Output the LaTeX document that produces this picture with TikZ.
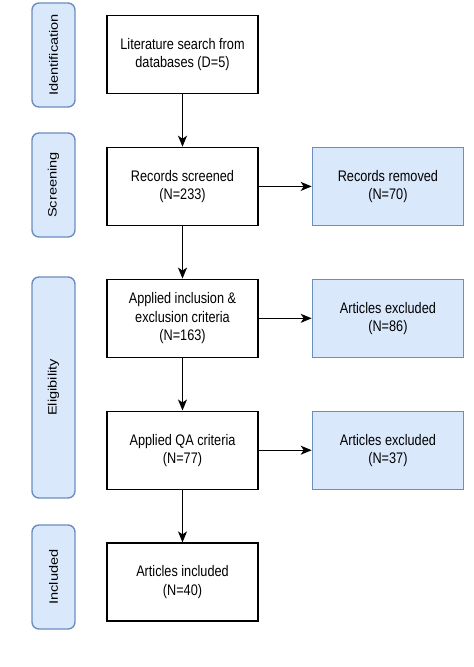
\documentclass[tikz,border=0pt]{standalone}
\usepackage{graphicx}
\usepackage{fontspec}
\setmainfont{Liberation Sans}[FakeStretch=0.83]
\newfontfamily\pillfont{Liberation Sans}
\usetikzlibrary{arrows.meta,positioning}

\definecolor{phasefill}{HTML}{DAE8FC}
\definecolor{phaseline}{HTML}{6C8EBF}

\tikzset{
  stage/.style={draw, line width=1.4pt, minimum width=151pt, minimum height=78pt,
    align=center, font=\fontsize{15.3}{18.3}\selectfont},
  dropped/.style={stage, draw=phaseline, fill=phasefill},
  phase/.style={draw=phaseline, fill=phasefill, line width=1.4pt, rounded corners=7pt,
    minimum height=43pt, rotate=90, font=\pillfont\fontsize{14.6}{17}\selectfont},
}

\begin{document}
\begin{tikzpicture}[->,>={Stealth[length=11pt,width=9pt,inset=3pt]},auto,x=1pt,y=-1pt,line width=1.4pt]
					\useasboundingbox (0,0) rectangle (474,667);
					
					% phases on the left
					\node[phase, minimum width=104pt] (ident) at (53.5,55) {\scalebox{1}[0.83]{Identification}};
					\node[phase, minimum width=104pt] (scr) at (53.5,185) {\scalebox{1}[0.83]{Screening}};
					\node[phase, minimum width=221pt] (elig) at (53.5,387.5) {\scalebox{1}[0.83]{Eligibility}};
					\node[phase, minimum width=104pt] (incl) at (53.5,577) {\scalebox{1}[0.83]{Included}};
					
					% main column
					\node[stage] (search) at (182.5,54.5) {Literature search from\\databases (D=5)};
					\node[stage] (screen) [below=52.5pt of search] {Records screened\\(N=233)};
					\node[stage] (criteria) [below=52.5pt of screen] {Applied inclusion \&\\exclusion criteria\\(N=163)};
					\node[stage] (qa) [below=52.5pt of criteria] {Applied QA criteria\\(N=77)};
					\node[stage] (final) [below=52.5pt of qa] {Articles included\\(N=40)};
					
					% removed records
					\node[dropped] (removed) [right=53pt of screen] {Records removed\\(N=70)};
					\node[dropped] (excl1) [right=53pt of criteria] {Articles excluded\\(N=86)};
					\node[dropped] (excl2) [right=53pt of qa] {Articles excluded\\(N=37)};
					
					\path
					(search) edge (screen)
					(screen) edge (criteria)
					(criteria) edge (qa)
					(qa) edge (final)
					(screen) edge (removed)
					(criteria) edge (excl1)
					(qa) edge (excl2);
\end{tikzpicture}
\end{document}
